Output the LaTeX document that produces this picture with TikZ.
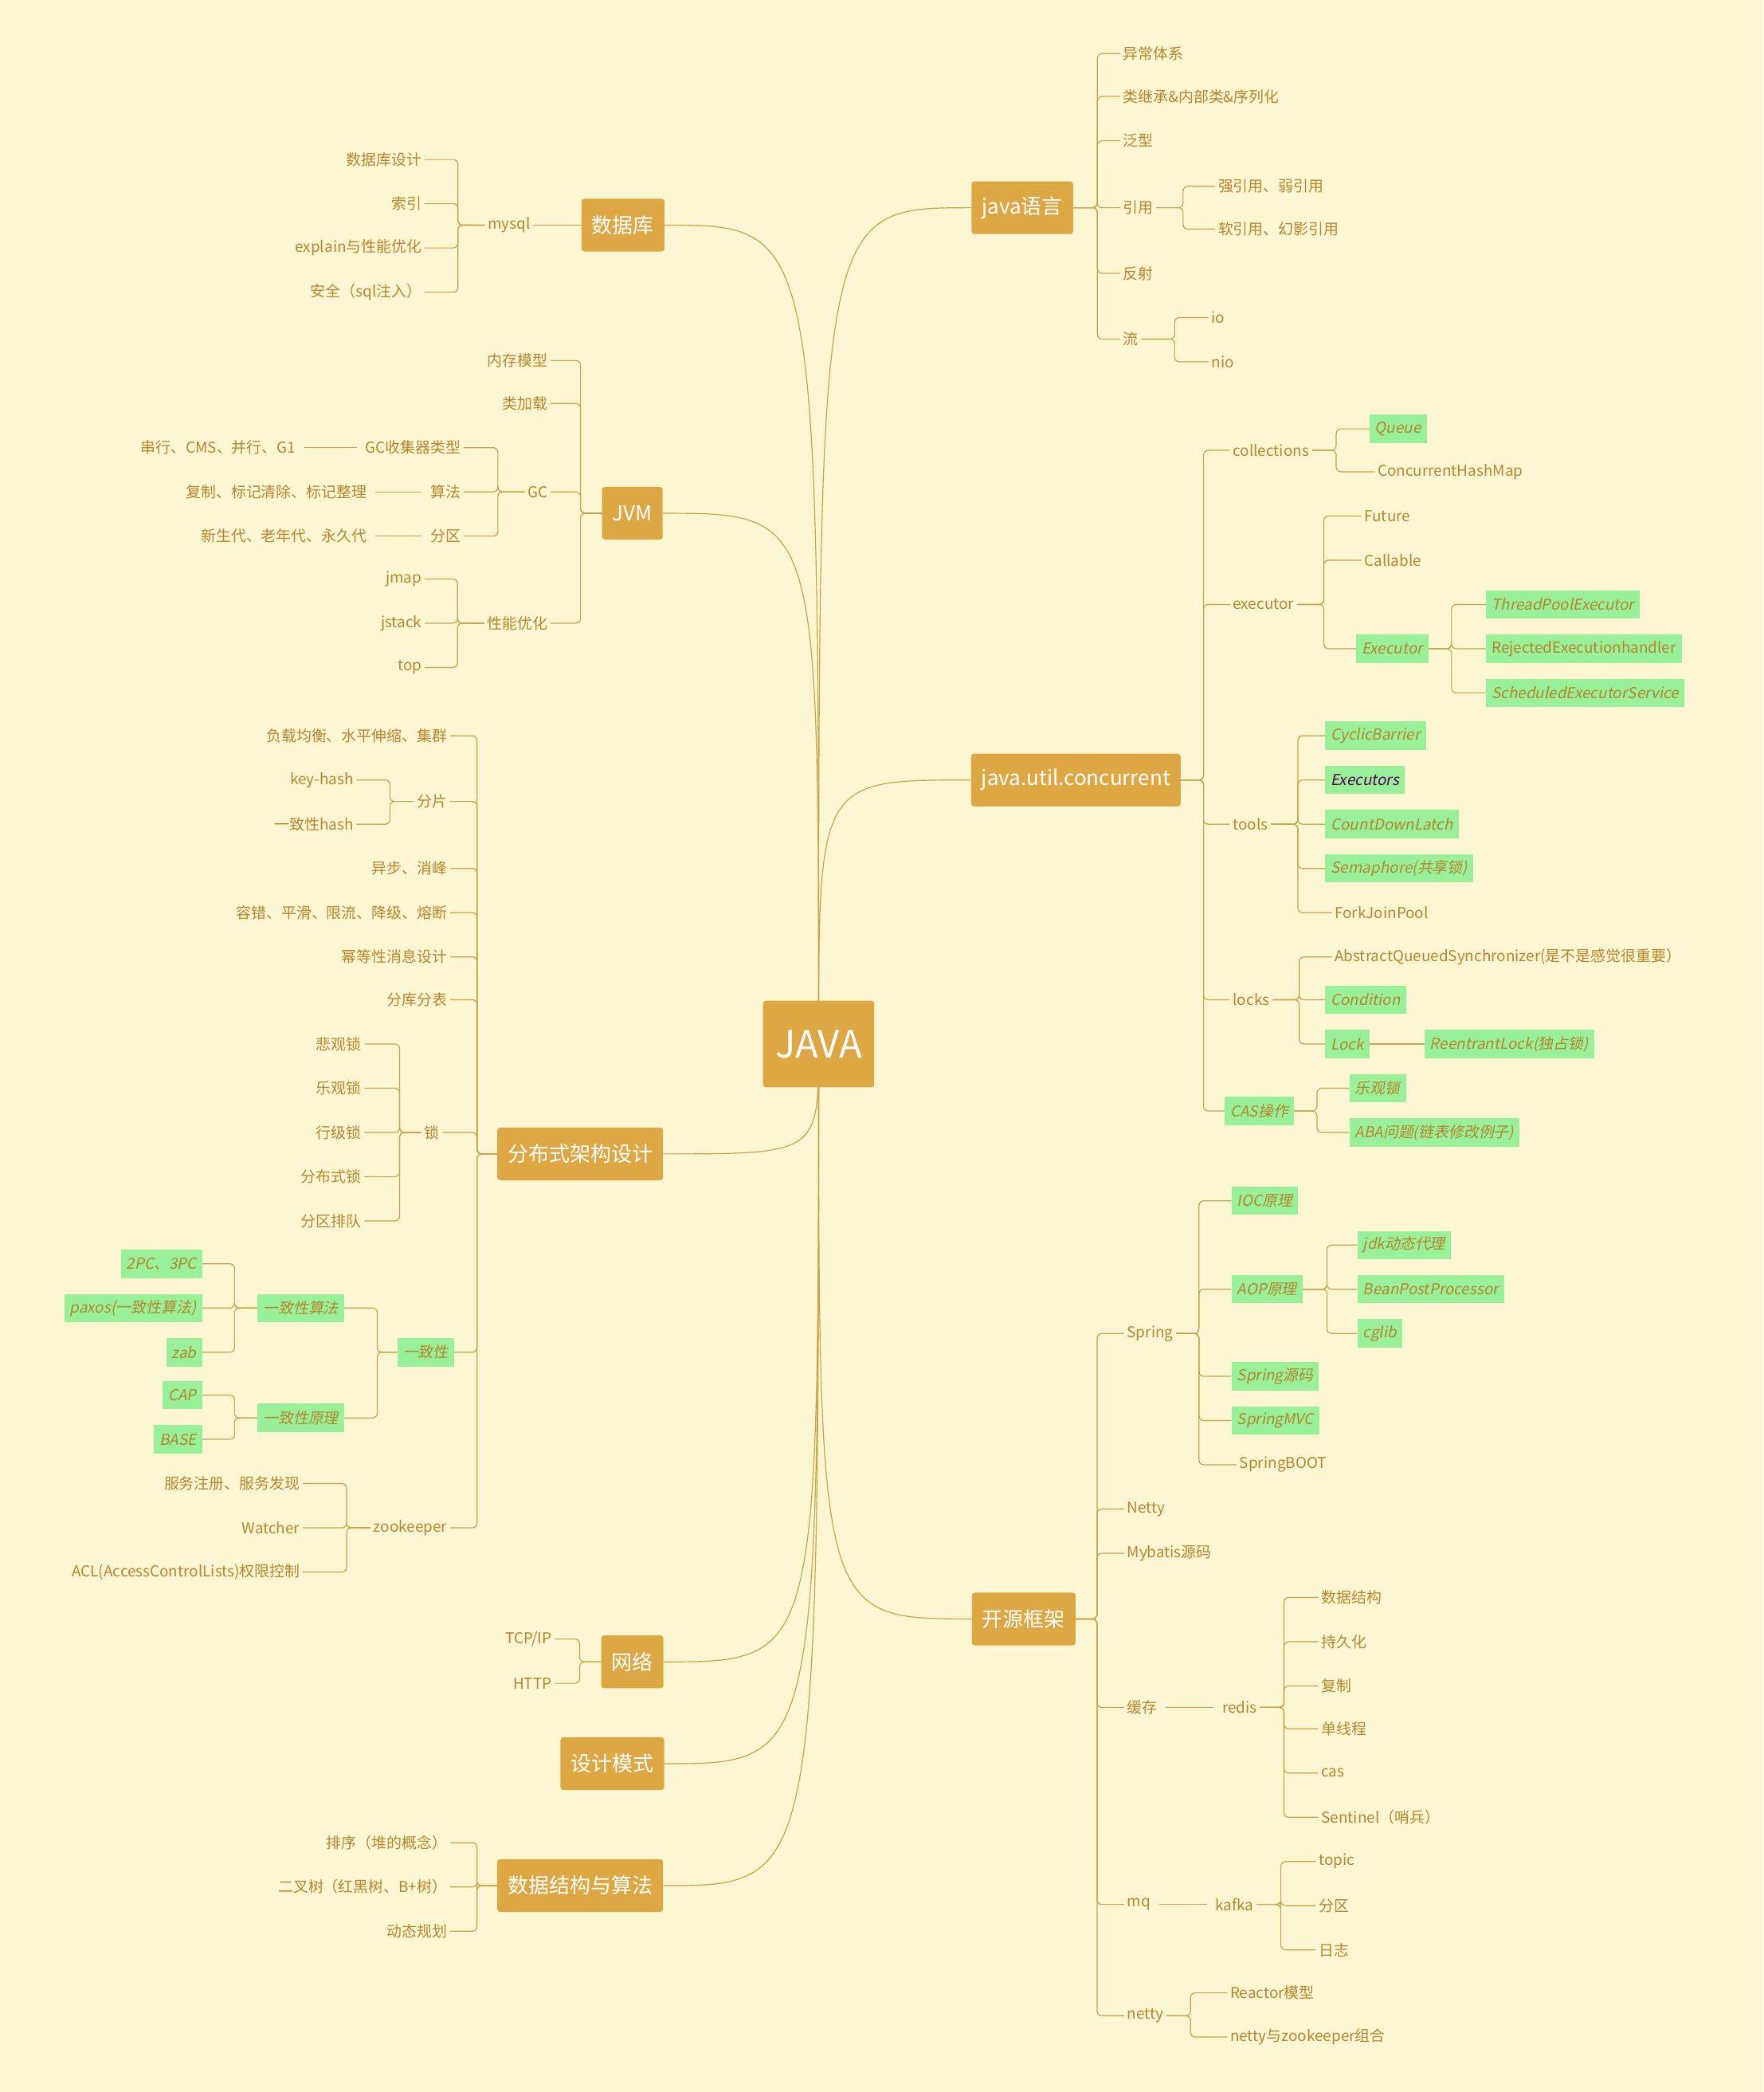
\documentclass[tikz,border=0pt]{standalone}
\usepackage{fontspec}
\setmainfont{Noto Sans CJK SC}[AutoFakeSlant=0.2]
\definecolor{bg}{HTML}{FCF6D2}
\definecolor{lc}{HTML}{C9A34A}
\definecolor{tc}{HTML}{B8862E}
\definecolor{bc}{HTML}{DDA843}
\definecolor{gr}{HTML}{98F098}
\def\fs{\fontsize{16}{19}\selectfont}
\def\fb{\fontsize{22}{26}\selectfont}
\tikzset{
 t/.style={text=tc,inner sep=3pt,font=\fs},
 g/.style={fill=gr,text=tc,font=\fs\itshape,inner xsep=6pt,inner ysep=4pt,minimum height=30pt},
 bx/.style={fill=bc,text=white,rounded corners=3pt,minimum height=56pt,inner xsep=11pt,font=\fb},
 br/.style={draw=lc,line width=1pt,rounded corners=5pt},
 ln/.style={draw=lc,line width=1pt}
}
\begin{document}
\begin{tikzpicture}[x=0.05cm,y=-0.05cm]
\fill[bg] (0,0) rectangle (1316,1561);
\useasboundingbox (0,0) rectangle (1316,1561);
\coordinate (jc) at (611,779);
% main boxes
\node[bx] (jl) at (763,155) {java语言};
\node[bx] (juc) at (803,582) {java.util.concurrent};
\node[bx] (os) at (764,1208) {开源框架};
\node[bx] (db) at (465,168) {数据库};
\node[bx] (jvm) at (472,383) {JVM};
\node[bx] (dist) at (433,861) {分布式架构设计};
\node[bx] (net) at (472,1240) {网络};
\node[bx] (dp) at (457,1316) {设计模式};
\node[bx] (dsa) at (433,1407) {数据结构与算法};
\foreach \b/\a in {jl/west,juc/west,os/west,db/east,jvm/east,dist/east,net/east,dp/east,dsa/east}{
 \draw[ln] (jc) .. controls (jc|-\b.\a) .. (\b.\a);}
\node[fill=bc,text=white,rounded corners=3pt,minimum width=118pt,minimum height=92pt,font=\fontsize{40}{44}\selectfont] (java) at (jc) {JAVA};

% java语言
\node[t,anchor=west] (a1) at (836,40) {异常体系};
\node[t,anchor=west] (a2) at (836,72) {类继承\&内部类\&序列化};
\node[t,anchor=west] (a3) at (836,105) {泛型};
\node[t,anchor=west] (a4) at (836,155) {引用};
\node[t,anchor=west] (a5) at (836,204) {反射};
\node[t,anchor=west] (a6) at (836,253) {流};
\foreach \c in {a1,a2,a3,a4,a5,a6} \draw[br] (jl.east) -- ++(18,0) |- (\c.west);
\node[t,anchor=west] (a41) at (907,139) {强引用、弱引用};
\node[t,anchor=west] (a42) at (907,171) {软引用、幻影引用};
\foreach \c in {a41,a42} \draw[br] (a4.east) -- ++(20,0) |- (\c.west);
\node[t,anchor=west] (a61) at (902,237) {io};
\node[t,anchor=west] (a62) at (902,270) {nio};
\foreach \c in {a61,a62} \draw[br] (a6.east) -- ++(25,0) |- (\c.west);

% juc
\node[t,anchor=west] (b1) at (918,336) {collections};
\node[t,anchor=west] (b2) at (918,451) {executor};
\node[t,anchor=west] (b3) at (918,615) {tools};
\node[t,anchor=west] (b4) at (918,746) {locks};
\node[g,anchor=west] (b5) at (914,829) {CAS操作};
\foreach \c in {b1,b2,b3,b4,b5} \draw[br] (juc.east) -- ++(17,0) |- (\c.west);
\node[g,anchor=west] (b11) at (1022,320) {Queue};
\node[t,anchor=west] (b12) at (1026,352) {ConcurrentHashMap};
\foreach \c in {b11,b12} \draw[br] (b1.east) -- ++(18,0) |- (\c.west);
\node[t,anchor=west] (b21) at (1016,385) {Future};
\node[t,anchor=west] (b22) at (1016,418) {Callable};
\node[g,anchor=west] (b23) at (1012,484) {Executor};
\foreach \c in {b21,b22,b23} \draw[br] (b2.east) -- ++(20,0) |- (\c.west);
\node[g,anchor=west] (b231) at (1109,451) {ThreadPoolExecutor};
\node[g,anchor=west,font=\fs] (b232) at (1109,484) {RejectedExecutionhandler};
\node[g,anchor=west] (b233) at (1109,517) {ScheduledExecutorService};
\foreach \c in {b231,b232,b233} \draw[br] (b23.east) -- ++(17,0) |- (\c.west);
\node[g,anchor=west] (b31) at (989,549) {CyclicBarrier};
\node[g,anchor=west,text=violet!70!black] (b32) at (989,582) {Executors};
\node[g,anchor=west] (b33) at (989,615) {CountDownLatch};
\node[g,anchor=west] (b34) at (989,648) {Semaphore(共享锁)};
\node[t,anchor=west] (b35) at (994,681) {ForkJoinPool};
\foreach \c in {b31,b32,b33,b34,b35} \draw[br] (b3.east) -- ++(20,0) |- (\c.west);
\node[t,anchor=west] (b41) at (994,714) {AbstractQueuedSynchronizer(是不是感觉很重要）};
\node[g,anchor=west] (b42) at (989,746) {Condition};
\node[g,anchor=west] (b43) at (989,779) {Lock};
\foreach \c in {b41,b42,b43} \draw[br] (b4.east) -- ++(20,0) |- (\c.west);
\node[g,anchor=west] (b431) at (1063,779) {ReentrantLock(独占锁)};
\draw[ln] (b43.east) -- (b431.west);
\node[g,anchor=west] (b51) at (1007,812) {乐观锁};
\node[g,anchor=west] (b52) at (1007,845) {ABA问题(链表修改例子)};
\foreach \c in {b51,b52} \draw[br] (b5.east) -- ++(17,0) |- (\c.west);

% 开源框架
\node[t,anchor=west] (c1) at (839,995) {Spring};
\node[t,anchor=west] (c2) at (839,1126) {Netty};
\node[t,anchor=west] (c3) at (839,1159) {Mybatis源码};
\node[t,anchor=west] (c4) at (839,1274) {缓存};
\node[t,anchor=west] (c5) at (839,1421) {mq};
\node[t,anchor=west] (c6) at (839,1504) {netty};
\foreach \c in {c1,c2,c3,c4,c5,c6} \draw[br] (os.east) -- ++(16,0) |- (\c.west);
\node[g,anchor=west] (c11) at (919,896) {IOC原理};
\node[g,anchor=west] (c12) at (919,962) {AOP原理};
\node[g,anchor=west] (c13) at (919,1027) {Spring源码};
\node[g,anchor=west] (c14) at (919,1060) {SpringMVC};
\node[t,anchor=west] (c15) at (923,1093) {SpringBOOT};
\foreach \c in {c11,c12,c13,c14,c15} \draw[br] (c1.east) -- ++(17,0) |- (\c.west);
\node[g,anchor=west] (c121) at (1013,929) {jdk动态代理};
\node[g,anchor=west] (c122) at (1013,962) {BeanPostProcessor};
\node[g,anchor=west] (c123) at (1013,995) {cglib};
\foreach \c in {c121,c122,c123} \draw[br] (c12.east) -- ++(18,0) |- (\c.west);
\node[t,anchor=west] (c41) at (910,1274) {redis};
\draw[ln] ([xshift=6pt]c4.east) -- ([xshift=-6pt]c41.west);
\foreach \n/\y/\s in {1/1192/数据结构,2/1225/持久化,3/1258/复制,4/1290/单线程,5/1323/cas,6/1356/Sentinel（哨兵）}{
 \node[t,anchor=west] (r\n) at (984,\y) {\s};
 \draw[br] (c41.east) -- ++(18,0) |- (r\n.west);}
\node[t,anchor=west] (c51) at (905,1421) {kafka};
\draw[ln] ([xshift=6pt]c5.east) -- ([xshift=-6pt]c51.west);
\foreach \n/\y/\s in {1/1389/topic,2/1422/分区,3/1455/日志}{
 \node[t,anchor=west] (k\n) at (982,\y) {\s};
 \draw[br] (c51.east) -- ++(18,0) |- (k\n.west);}
\node[t,anchor=west] (c61) at (916,1487) {Reactor模型};
\node[t,anchor=west] (c62) at (916,1520) {netty与zookeeper组合};
\foreach \c in {c61,c62} \draw[br] (c6.east) -- ++(18,0) |- (\c.west);

% 数据库
\node[t,anchor=east] (d1) at (398,168) {mysql};
\draw[ln] (db.west) -- (d1.east);
\foreach \n/\y/\s in {1/119/数据库设计,2/152/索引,3/185/explain与性能优化,4/218/安全（sql注入）}{
 \node[t,anchor=east] (m\n) at (317,\y) {\s};
 \draw[br] (d1.west) -- ++(-20,0) |- (m\n.east);}

% JVM
\node[t,anchor=east] (j1) at (411,269) {内存模型};
\node[t,anchor=east] (j2) at (411,301) {类加载};
\node[t,anchor=east] (j3) at (411,367) {GC};
\node[t,anchor=east] (j4) at (411,465) {性能优化};
\foreach \c in {j1,j2,j3,j4} \draw[br] (jvm.west) -- ++(-16,0) |- (\c.east);
\node[t,anchor=east] (g1) at (346,334) {GC收集器类型};
\node[t,anchor=east] (g2) at (346,367) {算法};
\node[t,anchor=east] (g3) at (346,400) {分区};
\foreach \c in {g1,g2,g3} \draw[br] (j3.west) -- ++(-20,0) |- (\c.east);
\node[t,anchor=east] (g11) at (223,334) {串行、CMS、并行、G1};
\node[t,anchor=east] (g21) at (276,367) {复制、标记清除、标记整理};
\node[t,anchor=east] (g31) at (276,400) {新生代、老年代、永久代};
\draw[ln] ([xshift=-6pt]g1.west) -- ([xshift=6pt]g11.east);
\draw[ln] ([xshift=-6pt]g2.west) -- ([xshift=6pt]g21.east);
\draw[ln] ([xshift=-6pt]g3.west) -- ([xshift=6pt]g31.east);
\foreach \n/\y/\s in {1/432/jmap,2/465/jstack,3/498/top}{
 \node[t,anchor=east] (p\n) at (317,\y) {\s};
 \draw[br] (j4.west) -- ++(-20,0) |- (p\n.east);}

% 分布式
\node[t,anchor=east] (e1) at (336,549) {负载均衡、水平伸缩、集群};
\node[t,anchor=east] (e2) at (336,598) {分片};
\node[t,anchor=east] (e3) at (336,648) {异步、消峰};
\node[t,anchor=east] (e4) at (336,681) {容错、平滑、限流、降级、熔断};
\node[t,anchor=east] (e5) at (336,714) {幂等性消息设计};
\node[t,anchor=east] (e6) at (336,746) {分库分表};
\node[t,anchor=east] (e7) at (330,845) {锁};
\node[g,anchor=east] (e8) at (339,1009) {一致性};
\node[t,anchor=east] (e9) at (336,1140) {zookeeper};
\foreach \c in {e1,e2,e3,e4,e5,e6,e7,e8,e9} \draw[br] (dist.west) -- ++(-15,0) |- (\c.east);
\node[t,anchor=east] (e21) at (266,582) {key-hash};
\node[t,anchor=east] (e22) at (266,615) {一致性hash};
\foreach \c in {e21,e22} \draw[br] (e2.west) -- ++(-18,0) |- (\c.east);
\foreach \n/\y/\s in {1/779/悲观锁,2/812/乐观锁,3/845/行级锁,4/878/分布式锁,5/911/分区排队}{
 \node[t,anchor=east] (l\n) at (272,\y) {\s};
 \draw[br] (e7.west) -- ++(-16,0) |- (l\n.east);}
\node[g,anchor=east] (e81) at (257,976) {一致性算法};
\node[g,anchor=east] (e82) at (257,1058) {一致性原理};
\foreach \c in {e81,e82} \draw[br] (e8.west) -- ++(-15,0) |- (\c.east);
\node[g,anchor=east] (x1) at (151,943) {2PC、3PC};
\node[g,anchor=east] (x2) at (151,976) {paxos(一致性算法)};
\node[g,anchor=east] (x3) at (151,1009) {zab};
\foreach \c in {x1,x2,x3} \draw[br] (e81.west) -- ++(-17,0) |- (\c.east);
\node[g,anchor=east] (y1) at (151,1041) {CAP};
\node[g,anchor=east] (y2) at (151,1074) {BASE};
\foreach \c in {y1,y2} \draw[br] (e82.west) -- ++(-17,0) |- (\c.east);
\node[t,anchor=east] (z1) at (226,1107) {服务注册、服务发现};
\node[t,anchor=east] (z2) at (226,1140) {Watcher};
\node[t,anchor=east] (z3) at (226,1173) {ACL(AccessControlLists)权限控制};
\foreach \c in {z1,z2,z3} \draw[br] (e9.west) -- ++(-18,0) |- (\c.east);

% 网络
\node[t,anchor=east] (n1) at (414,1223) {TCP/IP};
\node[t,anchor=east] (n2) at (414,1256) {HTTP};
\foreach \c in {n1,n2} \draw[br] (net.west) -- ++(-16,0) |- (\c.east);
% 数据结构与算法
\node[t,anchor=east] (s1) at (336,1375) {排序（堆的概念）};
\node[t,anchor=east] (s2) at (336,1408) {二叉树（红黑树、B+树）};
\node[t,anchor=east] (s3) at (336,1441) {动态规划};
\foreach \c in {s1,s2,s3} \draw[br] (dsa.west) -- ++(-15,0) |- (\c.east);
\end{tikzpicture}
\end{document}
